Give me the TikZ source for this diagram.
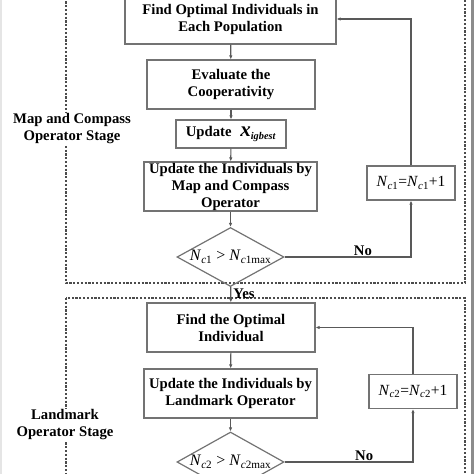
\documentclass[tikz,border=0pt]{standalone}
\usepackage{fontspec}
\setmainfont{Liberation Serif}
\usetikzlibrary{shapes.geometric,arrows.meta}
\newcommand{\Nc}[1]{\textit{N}\textsubscript{\textit{c}#1}}
\newcommand{\xbest}{\textit{\fontsize{21}{21}\selectfont x}\textsubscript{\textit{igbest}}}

\begin{document}
\begin{tikzpicture}[x=1pt,y=-1pt,
    box/.style={draw=black!55, line width=1.2pt, rectangle, align=center, inner sep=0pt, font=\fontsize{14.7}{17}\selectfont\bfseries},
    cnt/.style={draw=black!55, line width=1.2pt, rectangle, inner sep=0pt, minimum width=88, minimum height=34, font=\fontsize{15.5}{17}\selectfont},
    test/.style={draw=black!55, line width=1.2pt, diamond, aspect=1.8, inner sep=0pt, minimum width=107, minimum height=59, font=\fontsize{16}{17}\selectfont},
    stage/.style={draw=black!70, line width=1.4pt, dash pattern=on 2.2pt off 1.6pt},
    lbl/.style={align=center, font=\fontsize{14.7}{17}\selectfont\bfseries},
    flow/.style={draw=black!65, line width=1.1pt, -{Latex[length=4pt,width=3.5pt]}}]
    \useasboundingbox (0,0) rectangle (474,474);
    \clip (0,0) rectangle (474,474);
    \fill[black!10] (0,0) rectangle (2,474);
    \fill[black!45] (471,0) rectangle (474,474);

    % Map and compass stage
    \draw[stage] (66,-10) rectangle (465,283);
    \node[lbl, fill=white, inner sep=1pt] (stage-1) at (72,129) {Map and Compass\\Operator Stage};
    \node[box, minimum width=211, minimum height=50] (box-1-1) at (230.5,19) {Find Optimal Individuals in\\Each Population};
    \node[box, minimum width=168, minimum height=49] (box-1-2) at (231,84.5) {Evaluate the\\Cooperativity};
    \node[box, minimum width=110, minimum height=28] (box-1-3) at (231,134) {Update\hspace{0.6em}\xbest};
    \node[box, minimum width=173, minimum height=49] (box-1-4) at (230.5,186.5) {Update the Individuals by\\Map and Compass\\Operator};
    \node[test] (test-1) at (230.5,257) {\Nc{1} > \Nc{1max}};
    \node[cnt] (cnt-1) at (411,183) {\Nc{1}=\Nc{1}+1};

    % Landmark stage
    \draw[stage] (66,298) rectangle (465,490);
    \node[lbl, fill=white, inner sep=1pt] (stage-2) at (65,425) {Landmark\\Operator Stage};
    \node[box, minimum width=168, minimum height=49] (box-2-1) at (231,327.5) {Find the Optimal\\Individual};
    \node[box, minimum width=173, minimum height=49] (box-2-2) at (230.5,393.5) {Update the Individuals by\\Landmark Operator};
    \node[test, minimum height=60] (test-2) at (230.5,462) {\Nc{2} > \Nc{2max}};
    \node[cnt] (cnt-2) at (413,391.5) {\Nc{2}=\Nc{2}+1};

    % Connectors
    \draw[flow] (box-1-1) -- (box-1-2);
    \draw[flow] (box-1-2) -- (box-1-3);
    \draw[flow] (box-1-3) -- (box-1-4);
    \draw[flow] (box-1-4) -- (test-1);
    \draw[flow] (test-1) -- node[lbl, right, pos=0.45, inner sep=2pt] {Yes} (box-2-1);
    \draw[flow] (test-1.east) -- node[lbl, above, pos=0.62, inner sep=1pt] {No} (test-1.east -| cnt-1.south) -- (cnt-1.south);
    \draw[flow] (cnt-1.north) |- (box-1-1.east);
    \draw[flow] (box-2-1) -- (box-2-2);
    \draw[flow] (box-2-2) -- (test-2);
    \draw[flow] (test-2.east) -- node[lbl, above, pos=0.62, inner sep=1pt] {No} (test-2.east -| cnt-2.south) -- (cnt-2.south);
    \draw[flow] (cnt-2.north) |- (box-2-1.east);

\end{tikzpicture}
\end{document}
